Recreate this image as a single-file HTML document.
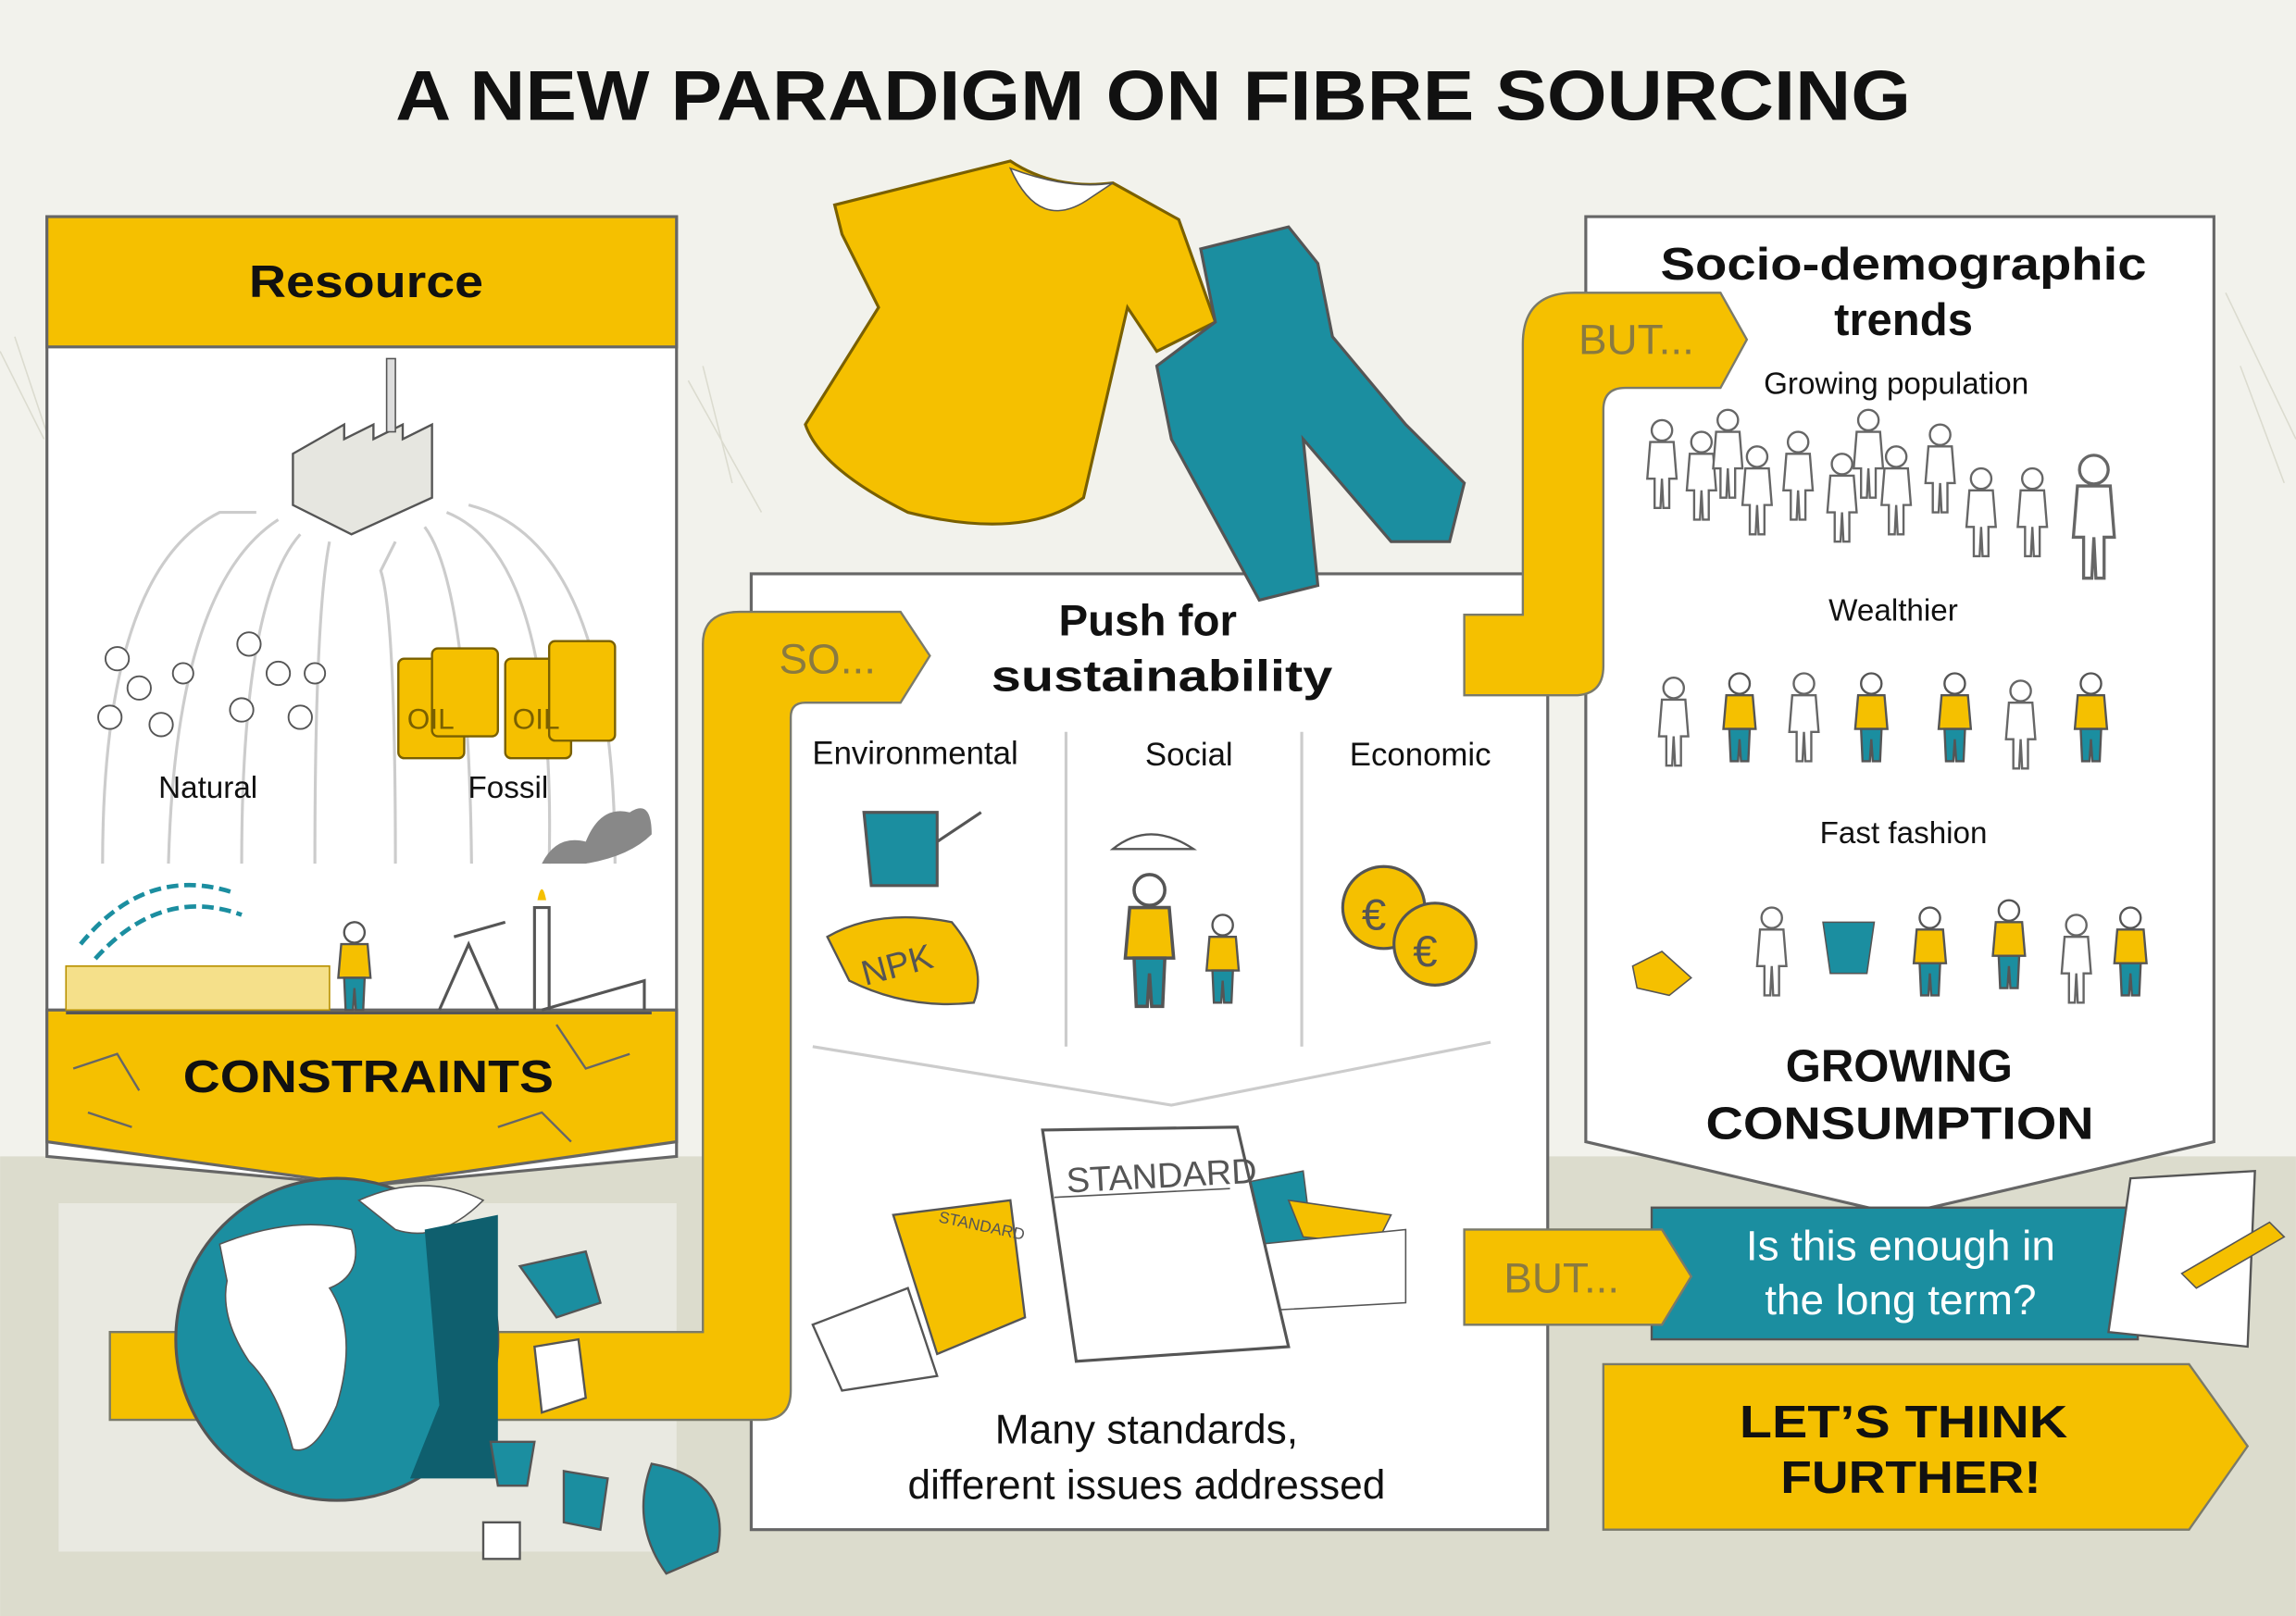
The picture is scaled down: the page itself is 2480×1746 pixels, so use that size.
<!DOCTYPE html>
<html><head><meta charset="utf-8"><style>
html,body{margin:0;padding:0;background:#f2f2ec;}
svg{display:block}
text{font-family:"Liberation Sans",sans-serif;}
</style></head><body>
<svg width="2480" height="1746" viewBox="0 0 1568 1104" xmlns="http://www.w3.org/2000/svg">
<defs>
<g id="pw">
<circle cx="0" cy="-28" r="7" fill="#fff" stroke="#666" stroke-width="1.5"/>
<path d="M-8,-20 L8,-20 L10,5 L5,5 L5,25 L1,25 L0,5 L-1,25 L-5,25 L-5,5 L-10,5 Z" fill="#fff" stroke="#666" stroke-width="1.5"/>
</g>
<g id="py">
<circle cx="0" cy="-28" r="7" fill="#fff" stroke="#555" stroke-width="1.5"/>
<path d="M-9,-20 L9,-20 L11,3 L-11,3 Z" fill="#f5c000" stroke="#555" stroke-width="1.5"/>
<path d="M-7,3 L7,3 L6,25 L1,25 L0,10 L-1,25 L-6,25 Z" fill="#1b8ea0" stroke="#555" stroke-width="1.5"/>
</g>
</defs>
<rect width="1568" height="1104" fill="#f2f2ec"/>
<rect y="790" width="1568" height="314" fill="#dcdccd"/>
<g stroke="#d6d6c8" stroke-width="1" opacity="0.8">
<path d="M0,240 L30,300 M10,230 L40,320 M470,260 L520,350 M480,250 L500,330 M1040,300 L1090,380 M1520,200 L1568,300 M1530,250 L1560,330 M960,420 L1000,470"/>
</g>
<text x="270" y="82" font-size="48" font-weight="bold" fill="#111" textLength="1035" lengthAdjust="spacingAndGlyphs">A NEW PARADIGM ON FIBRE SOURCING</text>

<rect x="40" y="822" width="422" height="238" fill="#e9e9e1"/>

<!-- left panel -->
<path d="M32,148 L462,148 L462,790 L250,810 L32,790 Z" fill="#fff" stroke="#666" stroke-width="2"/>
<rect x="32" y="148" width="430" height="89" fill="#f5c000" stroke="#666" stroke-width="2"/>
<text x="250" y="203" text-anchor="middle" font-size="31" font-weight="bold" fill="#111" textLength="160" lengthAdjust="spacingAndGlyphs">Resource</text>
<path d="M32,690 L462,690 L462,780 L250,810 L32,780 Z" fill="#f5c000" stroke="#666" stroke-width="2"/>
<path d="M50,730 L80,720 L95,745 M380,700 L400,730 L430,720 M340,770 L370,760 L390,780 M60,760 L90,770" stroke="#666" stroke-width="1.5" fill="none"/>
<text x="125" y="746" font-size="31" font-weight="bold" fill="#111" textLength="253" lengthAdjust="spacingAndGlyphs">CONSTRAINTS</text>
<path d="M200,310 L235,290 L235,300 L255,290 L255,300 L275,290 L275,300 L295,290 L295,340 L240,365 L200,345 Z" fill="#e6e6e0" stroke="#555" stroke-width="1.5"/>
<rect x="264" y="245" width="6" height="50" fill="#ddd" stroke="#555"/>
<g stroke="#ccc" stroke-width="2" fill="none">
<path d="M175,350 L150,350 Q70,390 70,590"/><path d="M190,355 Q120,400 115,590"/><path d="M205,365 Q165,410 165,590"/><path d="M225,370 Q215,420 215,590"/>
<path d="M270,370 L260,390 Q270,420 270,590"/><path d="M290,360 Q320,400 322,590"/><path d="M305,350 Q380,380 375,590"/><path d="M320,345 Q420,370 420,590"/>
</g>
<g fill="#fff" stroke="#555" stroke-width="1.2">
<circle cx="80" cy="450" r="8"/><circle cx="95" cy="470" r="8"/><circle cx="75" cy="490" r="8"/><circle cx="110" cy="495" r="8"/><circle cx="125" cy="460" r="7"/>
<circle cx="170" cy="440" r="8"/><circle cx="190" cy="460" r="8"/><circle cx="165" cy="485" r="8"/><circle cx="205" cy="490" r="8"/><circle cx="215" cy="460" r="7"/>
</g>
<text x="142" y="545" text-anchor="middle" font-size="21" fill="#111">Natural</text>
<text x="347" y="545" text-anchor="middle" font-size="21" fill="#111">Fossil</text>
<g fill="#f5c000" stroke="#7a6000" stroke-width="1.5">
<rect x="272" y="450" width="45" height="68" rx="4"/><rect x="295" y="443" width="45" height="60" rx="4"/>
<rect x="345" y="450" width="45" height="68" rx="4"/><rect x="375" y="438" width="45" height="68" rx="4"/>
</g>
<text x="278" y="498" font-size="20" fill="#7a6000">OIL</text><text x="350" y="498" font-size="20" fill="#7a6000">OIL</text>
<path d="M370,590 Q380,570 400,575 Q410,550 430,555 Q445,545 445,570 Q430,585 400,590 Z" fill="#888"/>
<path d="M45,690 L225,690 L225,660 L45,660 Z" fill="#f5e08a" stroke="#b89000" stroke-width="1"/>
<path d="M55,645 Q100,590 160,610 M65,655 Q110,605 165,625" stroke="#1b8ea0" stroke-width="3" stroke-dasharray="8 4" fill="none"/>
<use href="#py" x="242" y="665"/>
<path d="M300,690 L320,645 L340,690 M310,640 L345,630 M365,690 L365,620 L375,620 L375,690 M370,690 L440,670 L440,690" stroke="#555" stroke-width="2" fill="none"/>
<path d="M367,615 Q370,600 373,615 Z" fill="#f5c000"/>
<line x1="45" y1="692" x2="445" y2="692" stroke="#555" stroke-width="2"/>

<!-- middle panel -->
<rect x="513" y="392" width="544" height="653" fill="#fff" stroke="#666" stroke-width="2"/>

<!-- yellow path left (on top of panel) -->
<path d="M75,910 L480,910 L480,440 Q480,418 505,418 L615,418 L635,448 L615,480 L550,480 Q540,480 540,490 L540,950 Q540,970 520,970 L75,970 Z" fill="#f5c000" stroke="#7a7a6a" stroke-width="1.5"/>
<text x="532" y="460" font-size="29" fill="#8a7a40">SO...</text>

<!-- globe -->
<circle cx="230" cy="915" r="110" fill="#1b8ea0" stroke="#555" stroke-width="2"/>
<path d="M150,850 Q200,830 240,840 Q250,870 225,880 Q245,910 230,960 Q215,995 200,990 Q190,950 170,930 Q150,900 155,875 Z" fill="#fff" stroke="#555"/>
<path d="M245,820 Q290,800 330,820 Q300,850 270,840 Z" fill="#fff" stroke="#555"/>
<path d="M290,840 L340,830 L340,1010 L280,1010 L300,960 Z" fill="#0f5f6e"/>
<g fill="#1b8ea0" stroke="#555" stroke-width="1.5">
<path d="M355,865 L400,855 L410,890 L380,900 Z"/><path d="M445,1000 Q500,1010 490,1060 L455,1075 Q430,1040 445,1000 Z"/>
<path d="M335,985 L365,985 L360,1015 L340,1015 Z"/><path d="M385,1005 L415,1010 L410,1045 L385,1040 Z"/>
</g>
<g fill="#fff" stroke="#555" stroke-width="1.5"><path d="M365,920 L395,915 L400,955 L370,965 Z"/><path d="M330,1040 L355,1040 L355,1065 L330,1065 Z"/></g>

<text x="676" y="434" font-size="30" font-weight="bold" fill="#111" dx="47">Push for</text>
<text x="677" y="472" font-size="30" font-weight="bold" fill="#111" textLength="233" lengthAdjust="spacingAndGlyphs">sustainability</text>
<text x="625" y="522" text-anchor="middle" font-size="22" fill="#111">Environmental</text>
<text x="812" y="523" text-anchor="middle" font-size="22" fill="#111">Social</text>
<text x="970" y="523" text-anchor="middle" font-size="22" fill="#111">Economic</text>
<line x1="728" y1="500" x2="728" y2="715" stroke="#ccc" stroke-width="2"/>
<line x1="889" y1="500" x2="889" y2="715" stroke="#ccc" stroke-width="2"/>
<path d="M555,715 L800,755 L1018,712" stroke="#ccc" stroke-width="2" fill="none"/>
<path d="M590,555 L640,555 L640,605 L595,605 Z M640,575 L670,555" fill="#1b8ea0" stroke="#555" stroke-width="2"/>
<path d="M565,640 Q600,620 650,630 Q675,660 665,685 Q620,690 580,670 Z" fill="#f5c000" stroke="#555" stroke-width="1.5"/>
<text x="588" y="668" font-size="24" fill="#555" transform="rotate(-15 610 660)">NPK</text>
<g transform="translate(785 650) scale(1.5)"><use href="#py" x="0" y="0"/></g>
<use href="#py" x="835" y="660"/>
<path d="M760,580 Q785,560 815,580 Z" fill="#fff" stroke="#555" stroke-width="1.5"/>
<circle cx="945" cy="620" r="28" fill="#f5c000" stroke="#555" stroke-width="2"/>
<circle cx="980" cy="645" r="28" fill="#f5c000" stroke="#555" stroke-width="2"/>
<text x="930" y="635" font-size="30" fill="#555">€</text><text x="965" y="660" font-size="30" fill="#555">€</text>
<path d="M555,905 L620,880 L640,940 L575,950 Z" fill="#fff" stroke="#555" stroke-width="1.5"/>
<path d="M840,810 L890,800 L900,880 L850,880 Z" fill="#1b8ea0" stroke="#555"/>
<path d="M880,820 L950,830 L940,850 L890,845 Z" fill="#f5c000" stroke="#555"/>
<path d="M860,850 L960,840 L960,890 L870,895 Z" fill="#fff" stroke="#555"/>
<path d="M712,772 L845,770 L880,920 L735,930 Z" fill="#fff" stroke="#555" stroke-width="2"/>
<text x="728" y="812" font-size="24" fill="#555" transform="rotate(-3 780 800)">STANDARD</text>
<line x1="720" y1="818" x2="840" y2="812" stroke="#555"/>
<path d="M610,830 L690,820 L700,900 L640,925 Z" fill="#f5c000" stroke="#555" stroke-width="1.5"/>
<text x="640" y="840" font-size="11" fill="#555" transform="rotate(12 665 840)">STANDARD</text>
<text x="783" y="986" text-anchor="middle" font-size="28" fill="#111">Many standards,</text>
<text x="783" y="1024" text-anchor="middle" font-size="28" fill="#111">different issues addressed</text>

<!-- right panel -->
<path d="M1083,148 L1512,148 L1512,780 L1297,830 L1083,780 Z" fill="#fff" stroke="#666" stroke-width="2"/>

<!-- right top yellow path (on top) -->
<path d="M1000,420 L1040,420 L1040,235 Q1040,200 1075,200 L1175,200 L1193,232 L1175,265 L1110,265 Q1095,265 1095,280 L1095,455 Q1095,475 1075,475 L1000,475 Z" fill="#f5c000" stroke="#7a7a6a" stroke-width="1.5"/>
<text x="1078" y="242" font-size="29" fill="#8a7a40">BUT...</text>

<!-- clothes -->
<path d="M570,140 L690,110 Q720,130 760,125 L805,150 L830,220 L790,240 L770,210 L740,340 Q700,370 620,350 Q560,320 550,290 L600,210 L575,160 Z" fill="#f5c000" stroke="#7a6000" stroke-width="2"/>
<path d="M690,115 Q710,160 745,135 L760,125 Q730,130 690,115 Z" fill="#fff" stroke="#555"/>
<path d="M820,170 L880,155 L900,180 L910,230 L960,290 L1000,330 L990,370 L950,370 L890,300 L900,400 L860,410 L800,300 L790,250 L830,220 Z" fill="#1b8ea0" stroke="#555" stroke-width="2"/>

<text x="1134" y="191" font-size="31" font-weight="bold" fill="#111" textLength="332" lengthAdjust="spacingAndGlyphs">Socio-demographic</text>
<text x="1300" y="229" text-anchor="middle" font-size="31" font-weight="bold" fill="#111">trends</text>
<text x="1295" y="269" text-anchor="middle" font-size="21" fill="#111">Growing population</text>
<use href="#pw" x="1135" y="322"/><use href="#pw" x="1162" y="330"/><use href="#pw" x="1180" y="315"/><use href="#pw" x="1200" y="340"/><use href="#pw" x="1228" y="330"/><use href="#pw" x="1258" y="345"/><use href="#pw" x="1276" y="315"/><use href="#pw" x="1295" y="340"/><use href="#pw" x="1325" y="325"/><use href="#pw" x="1353" y="355"/><use href="#pw" x="1388" y="355"/>
<g transform="translate(1430 360) scale(1.4)"><use href="#pw" x="0" y="0"/></g>
<text x="1293" y="424" text-anchor="middle" font-size="21" fill="#111">Wealthier</text>
<use href="#pw" x="1143" y="498"/><use href="#py" x="1188" y="495"/><use href="#pw" x="1232" y="495"/><use href="#py" x="1278" y="495"/><use href="#py" x="1335" y="495"/><use href="#pw" x="1380" y="500"/><use href="#py" x="1428" y="495"/>
<text x="1300" y="576" text-anchor="middle" font-size="21" fill="#111">Fast fashion</text>
<path d="M1115,660 L1135,650 L1155,668 L1140,680 L1118,675 Z" fill="#f5c000" stroke="#555"/>
<use href="#pw" x="1210" y="655"/><path d="M1245,630 L1280,630 L1275,665 L1250,665 Z" fill="#1b8ea0" stroke="#555"/>
<use href="#py" x="1318" y="655"/><use href="#py" x="1372" y="650"/><use href="#pw" x="1418" y="660"/><use href="#py" x="1455" y="655"/>
<text x="1297" y="739" text-anchor="middle" font-size="31" font-weight="bold" fill="#111">GROWING</text>
<text x="1165" y="778" font-size="31" font-weight="bold" fill="#111" textLength="265" lengthAdjust="spacingAndGlyphs">CONSUMPTION</text>

<!-- bottom right -->
<rect x="1128" y="825" width="332" height="90" fill="#1b8ea0" stroke="#555" stroke-width="1.5"/>
<text x="1298" y="861" text-anchor="middle" font-size="29" fill="#fff">Is this enough in</text>
<text x="1298" y="898" text-anchor="middle" font-size="29" fill="#fff">the long term?</text>
<path d="M1455,805 L1540,800 L1535,920 L1440,910 Z" fill="#fff" stroke="#555" stroke-width="1.5"/>
<path d="M1490,870 L1550,835 L1560,845 L1500,880 Z" fill="#f5c000" stroke="#555"/>
<path d="M1000,840 L1135,840 L1155,872 L1135,905 L1000,905 Z" fill="#f5c000" stroke="#7a7a6a" stroke-width="1.5"/>
<text x="1027" y="883" font-size="29" fill="#8a7a40">BUT...</text>
<path d="M1095,932 L1495,932 L1535,988 L1495,1045 L1095,1045 Z" fill="#f5c000" stroke="#7a7a6a" stroke-width="1.5"/>
<text x="1188" y="982" font-size="31" font-weight="bold" fill="#111" textLength="224" lengthAdjust="spacingAndGlyphs">LET’S THINK</text>
<text x="1216" y="1020" font-size="31" font-weight="bold" fill="#111" textLength="178" lengthAdjust="spacingAndGlyphs">FURTHER!</text>
</svg>
</body></html>
